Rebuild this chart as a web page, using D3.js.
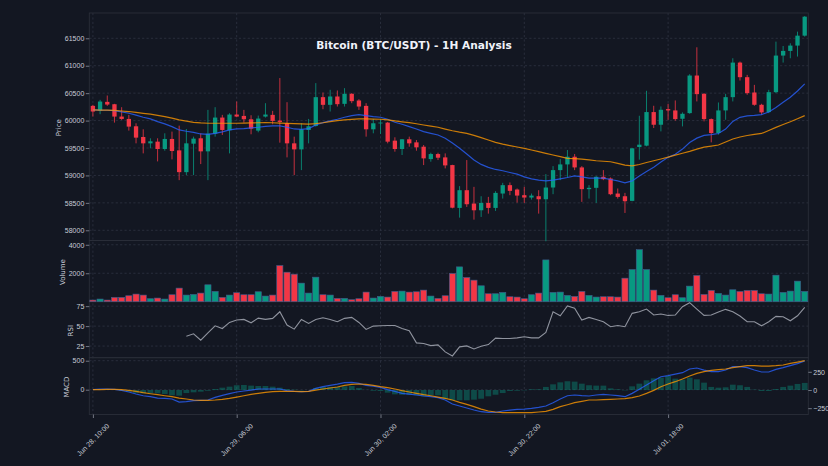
<!DOCTYPE html>
<html>
<head>
<meta charset="utf-8">
<script src="https://cdn.jsdelivr.net/npm/d3@7"></script>
<style>
  html, body { margin: 0; padding: 0; background: #131722; }
  svg { display: block; font-family: "DejaVu Sans", sans-serif; }
  .axis text { fill: #c8ccd6; font-size: 7px; }
  .axis line { stroke: #8a8f9c; stroke-width: 0.8; }
  .grid { stroke: #2f3442; stroke-width: 0.8; stroke-dasharray: 2.2,2.2; }
  .ylabel { fill: #c8ccd6; font-size: 7px; }
</style>
</head>
<body>
<div id="chart-container"></div>
<script>
// hourly candles, Jun 28 10:00 -> Jul 02 13:00
const open = [60268,60183,60341,60298,60073,60030,59896,59701,59585,59616,59482,59665,59457,59060,59579,59677,59439,59762,60055,59823,
  60110,60085,60024,59817,60073,60104,60000,59951,59585,59475,59829,59902,60427,60287,60439,60305,60488,60366,60268,59841,
  59951,59963,59634,59482,59659,59603,59524,59298,59390,59329,59189,58408,58731,58487,58365,58499,58408,58670,58823,58743,
  58640,58597,58621,58566,58780,59097,59201,59341,59146,58750,58774,58975,58944,58670,58621,58536,59518,59543,60155,59924,
  60209,60185,60033,60136,60821,60488,60027,59773,60185,60427,61057,60791,60512,60288,60155,60518,61185,61270,61367,61548];
const high = [60287,60378,60457,60305,60244,60104,59951,59841,59677,59677,59768,59799,59908,59847,59707,59768,60195,60244,60104,60134,
  60348,60195,60097,60091,60317,60177,60775,60335,59707,59951,60030,60683,60512,60561,60549,60591,60500,60390,60317,60030,
  60024,59975,59695,59665,59707,59646,59555,59414,59414,59402,59195,58805,59280,58792,58621,58609,58713,58865,58872,58762,
  58792,58670,58731,59024,59170,59298,59463,59390,59170,58823,58987,59097,58963,58762,58682,59500,60088,60543,60270,60258,
  60306,60367,60149,60845,61336,60500,60039,60330,60488,61136,61076,60833,60651,60306,60561,61439,61360,61409,61621,61906];
const low = [60073,60116,60268,59963,60012,59817,59585,59402,59494,59256,59451,59293,58914,59006,59006,59207,58914,59707,59738,59402,
  60061,59963,59750,59786,60055,59933,59597,59329,59006,59097,59585,59890,60207,60165,60256,60256,60317,60195,59707,59768,
  59756,59585,59433,59372,59524,59451,59189,59250,59280,59128,58400,58231,58426,58194,58243,58304,58353,58578,58640,58505,
  58499,58560,58304,57800,58658,58914,58963,59097,58518,58578,58499,58914,58640,58578,58316,58530,59288,59531,59864,59803,
  60015,59997,59894,60124,60349,59985,59603,59743,60015,60349,60730,60470,60270,60106,60136,60500,61057,61136,61167,61530];
const close = [60165,60347,60292,60073,60030,59890,59689,59585,59622,59482,59665,59445,59060,59585,59671,59439,59762,60055,59829,60110,
  60073,60024,59853,60037,60110,59994,59975,59585,59475,59841,59896,60427,60287,60439,60299,60488,60354,60256,59841,59951,
  59963,59616,59482,59659,59585,59512,59311,59390,59323,59183,58412,58731,58475,58365,58499,58408,58682,58823,58719,58633,
  58597,58633,58566,58780,59097,59201,59341,59146,58750,58774,58975,58932,58658,58609,58530,59494,59561,60155,59924,60197,
  60185,60027,60124,60821,60482,60027,59773,60185,60427,61057,60791,60500,60288,60149,60518,61185,61270,61367,61548,61894];
const volume = [117,186,117,303,303,420,536,466,210,256,186,490,955,466,513,606,1188,722,303,466,
  630,490,490,699,396,466,2540,2074,1934,1305,606,1724,490,466,233,233,140,210,676,256,
  373,326,722,746,676,699,816,396,233,420,1981,2447,1701,1515,1118,559,559,652,350,326,
  210,490,606,2936,652,676,443,373,722,443,326,350,350,326,1654,2260,3658,2260,816,443,
  280,490,280,1095,1841,513,792,583,466,839,722,792,792,559,536,1864,652,746,1445,722];

// moving averages (blue = fast, orange = slow)
const maFast = [60195,60190,60188,60183,60160,60134,60100,60061,60030,59982,59939,59890,59829,59805,59786,59756,59750,59768,59793,59829,
  59847,59854,59866,59878,59896,59902,59902,59878,59847,59841,59854,59920,59963,59994,60024,60061,60091,60110,60091,60073,
  60061,60024,59969,59933,59890,59847,59799,59768,59738,59677,59590,59494,59390,59280,59201,59146,59109,59085,59054,59024,
  58975,58938,58914,58902,58914,58938,58963,58993,58975,58951,58951,58951,58926,58902,58865,58900,58990,59070,59150,59245,
  59330,59385,59480,59600,59680,59730,59745,59765,59845,59985,60060,60085,60095,60110,60157,60240,60333,60424,60540,60670];
const maSlow = [60195,60192,60190,60185,60175,60165,60150,60133,60116,60095,60073,60045,60012,59990,59969,59958,59951,59951,59951,59951,
  59951,59953,59957,59960,59963,59960,59955,59950,59945,59939,59935,59945,59960,59982,59998,60012,60022,60030,60030,60027,
  60024,60012,59994,59978,59963,59942,59920,59900,59878,59845,59815,59790,59768,59730,59689,59645,59603,59570,59543,59518,
  59494,59463,59433,59403,59372,59342,59311,59305,59299,59284,59268,59259,59250,59220,59189,59175,59200,59235,59268,59300,
  59335,59370,59405,59440,59480,59515,59535,59555,59610,59665,59700,59728,59748,59765,59820,59877,59928,59978,60033,60090];

const rsi = [null,null,null,null,null,null,null,null,null,null,null,null,null,37.4,40.3,32.4,41.6,50.4,47,54.6,
  57.6,58.4,54.2,60,58.4,59.7,68,51.3,46.2,58.4,53.4,58.4,60.5,58.4,55.5,59.7,60.9,54.6,45.8,50,
  50.4,50.8,50.8,47,44.1,29,28.2,25.6,26.5,17.7,12.6,24,25.2,21.4,24.8,26.9,34.9,34.5,34.5,35.3,
  36.6,35.3,35.3,42,68,63,75.2,72.3,57.6,60.9,58.4,55.5,49.2,50.8,49.2,66,68,71.4,63.9,65.1,
  63.4,63.9,74.4,79.4,71.4,63.4,63.9,67.6,71,68,62.6,55.5,55.5,50.4,55.5,62.2,61.8,56.7,63,73.5];

const macdLine = [0,12,12,6,-12,-40,-75,-104,-121,-144,-150,-161,-213,-207,-190,-184,-178,-132,-98,-69,
  -40,-23,-6,12,12,12,12,-17,-29,-34,-29,23,52,75,95,121,127,109,75,63,
  40,0,-29,-63,-75,-92,-109,-121,-138,-178,-247,-282,-316,-351,-380,-391,-391,-368,-351,-339,
  -334,-322,-305,-282,-224,-161,-104,-92,-104,-109,-92,-81,-92,-104,-121,-63,6,81,155,224,
  242,270,293,357,374,339,311,311,339,397,397,380,339,305,305,351,380,414,449,495];
const signalLine = [0,2,4,6,0,-12,-30,-52,-70,-86,-104,-121,-144,-161,-178,-184,-184,-178,-167,-150,
  -127,-104,-81,-63,-46,-35,-29,-29,-29,-34,-29,-6,12,29,46,75,92,98,92,75,
  52,35,12,-17,-40,-63,-86,-104,-127,-150,-178,-219,-253,-293,-334,-368,-385,-397,-397,-397,
  -397,-397,-385,-374,-339,-293,-259,-224,-201,-178,-178,-172,-167,-161,-155,-138,-109,-63,-12,52,
  98,138,184,236,282,311,334,345,357,380,397,414,414,408,408,414,426,454,477,500];
const macdHist = [0,5,5,0,-14,-23,-42,-46,-46,-46,-55,-73,-78,-42,-32,-23,-10,14,32,46,
  65,69,60,55,55,46,32,14,5,-5,0,28,42,42,42,50,55,28,2,-10,
  -14,-37,-60,-65,-65,-73,-87,-73,-73,-120,-142,-142,-142,-133,-120,-87,-65,-42,-14,-10,
  -5,10,10,42,78,105,120,115,87,65,60,60,23,10,-5,50,87,133,160,170,
  193,156,142,170,147,101,42,32,37,73,65,42,5,-14,-14,14,42,60,83,97];

// ticks
const priceTicks = [58000, 58500, 59000, 59500, 60000, 60500, 61000, 61500];
const volumeTicks = [2000, 4000];
const rsiTicks = [25, 50, 75];
const macdTicks = [0, 500];
const histTicks = [-250, 0, 250];
const xTickIdx = [0, 20, 40, 60, 80];
const xTickLabels = ["Jun 28, 10:00", "Jun 29, 06:00", "Jun 30, 02:00", "Jun 30, 22:00", "Jul 01, 18:00"];

// layout
const W = 828, H = 466;
const plotLeft = 89.3, plotRight = 808.3;
const panels = {
    price:  {top: 13,    bottom: 240.5},
    volume: {top: 240.5, bottom: 301.7},
    rsi:    {top: 301.7, bottom: 357.7},
    macd:   {top: 357.7, bottom: 414.5}
};
const upColor = '#089981', downColor = '#f23645';
const blue = '#2962ff', orange = '#ff9800';

const svg = d3.select('#chart-container')
    .append('svg')
        .attr('width', W)
        .attr('height', H);
svg.append('rect').attr('width', W).attr('height', H).attr('fill', '#131722');

// scales
const idx = d3.range(close.length);
const x = d3.scaleLinear().domain([-0.5, close.length - 0.5]).range([plotLeft, plotRight]);
const step = x(1) - x(0);
const yPrice = d3.scaleLinear().domain([57814, 61961]).range([panels.price.bottom, panels.price.top]);
const yVol = d3.scaleLinear().domain([0, 4300]).range([panels.volume.bottom, panels.volume.top]);
const yRsi = d3.scaleLinear().domain([10.4, 80.6]).range([panels.rsi.bottom, panels.rsi.top]);
const yMacd = d3.scaleLinear().domain([-428, 552]).range([panels.macd.bottom, panels.macd.top]);
const yHist = d3.scaleLinear().domain([-337, 444]).range([panels.macd.bottom, panels.macd.top]);

const isUp = i => close[i] >= open[i];

// grid
function hGrid(scale, ticks) {
    svg.append('g').selectAll('line')
        .data(ticks)
        .join('line')
            .attr('class', 'grid')
            .attr('x1', plotLeft).attr('x2', plotRight)
            .attr('y1', d => scale(d)).attr('y2', d => scale(d));
}
hGrid(yPrice, priceTicks);
hGrid(yVol, volumeTicks);
hGrid(yRsi, rsiTicks);
hGrid(yMacd, macdTicks);
svg.append('g').selectAll('line')
    .data(xTickIdx)
    .join('line')
        .attr('class', 'grid')
        .attr('x1', d => x(d)).attr('x2', d => x(d))
        .attr('y1', panels.price.top).attr('y2', panels.macd.bottom);

// panel frames
Object.values(panels).forEach(p => {
    svg.append('rect')
        .attr('x', plotLeft).attr('y', p.top)
        .attr('width', plotRight - plotLeft).attr('height', p.bottom - p.top)
        .attr('fill', 'none').attr('stroke', '#2a2e39').attr('stroke-width', 0.9);
});

// candles
const candles = svg.append('g');
candles.selectAll('line')
    .data(idx)
    .join('line')
        .attr('x1', i => x(i)).attr('x2', i => x(i))
        .attr('y1', i => yPrice(high[i])).attr('y2', i => yPrice(low[i]))
        .attr('stroke', i => isUp(i) ? upColor : downColor)
        .attr('stroke-width', 0.8);
candles.selectAll('rect')
    .data(idx)
    .join('rect')
        .attr('x', i => x(i) - step * 0.3)
        .attr('width', step * 0.6)
        .attr('y', i => yPrice(Math.max(open[i], close[i])))
        .attr('height', i => Math.max(0.8, Math.abs(yPrice(open[i]) - yPrice(close[i]))))
        .attr('fill', i => isUp(i) ? upColor : downColor);

// moving averages
const priceLine = d3.line().x((d, i) => x(i)).y(d => yPrice(d));
svg.append('path').attr('d', priceLine(maFast))
    .attr('fill', 'none').attr('stroke', blue).attr('stroke-opacity', 0.78).attr('stroke-width', 1.2);
svg.append('path').attr('d', priceLine(maSlow))
    .attr('fill', 'none').attr('stroke', orange).attr('stroke-opacity', 0.78).attr('stroke-width', 1.2);

// volume
svg.append('g').selectAll('rect')
    .data(idx)
    .join('rect')
        .attr('x', i => x(i) - step * 0.43)
        .attr('width', step * 0.86)
        .attr('y', i => yVol(volume[i]))
        .attr('height', i => yVol(0) - yVol(volume[i]))
        .attr('fill', i => isUp(i) ? upColor : downColor)
        .attr('stroke', '#3f5b8c')
        .attr('stroke-width', 0.6);

// rsi
const rsiLine = d3.line().defined(d => d != null).x((d, i) => x(i)).y(d => yRsi(d));
svg.append('path').attr('d', rsiLine(rsi))
    .attr('fill', 'none').attr('stroke', '#8f939e').attr('stroke-width', 1.1);

// macd
svg.append('g').selectAll('rect')
    .data(idx)
    .join('rect')
        .attr('x', i => x(i) - step * 0.4)
        .attr('width', step * 0.8)
        .attr('y', i => yHist(Math.max(0, macdHist[i])))
        .attr('height', i => Math.abs(yHist(macdHist[i]) - yHist(0)))
        .attr('fill', upColor)
        .attr('fill-opacity', 0.4);
const macdPath = d3.line().x((d, i) => x(i)).y(d => yMacd(d));
svg.append('path').attr('d', macdPath(macdLine))
    .attr('fill', 'none').attr('stroke', blue).attr('stroke-opacity', 0.78).attr('stroke-width', 1.2);
svg.append('path').attr('d', macdPath(signalLine))
    .attr('fill', 'none').attr('stroke', orange).attr('stroke-opacity', 0.78).attr('stroke-width', 1.2);

// axes
function leftAxis(scale, ticks, label, panel) {
    const g = svg.append('g')
        .attr('class', 'axis')
        .attr('transform', `translate(${plotLeft},0)`)
        .call(d3.axisLeft(scale).tickValues(ticks).tickSize(3.5).tickPadding(1.5).tickFormat(d3.format('d')));
    g.select('.domain').remove();
    const bb = g.node().getBBox();
    svg.append('text')
        .attr('class', 'ylabel')
        .attr('text-anchor', 'middle')
        .attr('transform', `translate(${plotLeft + bb.x - 3.7}, ${(panel.top + panel.bottom) / 2 + 1}) rotate(-90)`)
        .text(label);
}
leftAxis(yPrice, priceTicks, 'Price', panels.price);
leftAxis(yVol, volumeTicks, 'Volume', panels.volume);
leftAxis(yRsi, rsiTicks, 'RSI', panels.rsi);
leftAxis(yMacd, macdTicks, 'MACD', panels.macd);

const rightG = svg.append('g')
    .attr('class', 'axis')
    .attr('transform', `translate(${plotRight},0)`)
    .call(d3.axisRight(yHist).tickValues(histTicks).tickSize(3.5).tickPadding(1.5));
rightG.select('.domain').remove();

const xAxisG = svg.append('g')
    .attr('class', 'axis')
    .attr('transform', `translate(0,${panels.macd.bottom})`)
    .call(d3.axisBottom(x).tickValues(xTickIdx).tickSize(3.5).tickFormat((d, i) => xTickLabels[i]));
xAxisG.select('.domain').remove();
xAxisG.selectAll('text').each(function() {
    const L = this.getComputedTextLength();
    d3.select(this)
        .attr('text-anchor', 'end')
        .attr('x', 0).attr('y', 0).attr('dy', null)
        .attr('transform', `translate(${L * 0.354 + 1.3}, 12.1) rotate(-45)`);
});

// title
svg.append('text')
    .attr('x', 414)
    .attr('y', 49.3)
    .attr('text-anchor', 'middle')
    .attr('fill', '#f0f3fa')
    .style('font-size', '10.6px')
    .style('font-weight', 'bold')
    .text('Bitcoin (BTC/USDT) - 1H Analysis');
</script>
</body>
</html>
